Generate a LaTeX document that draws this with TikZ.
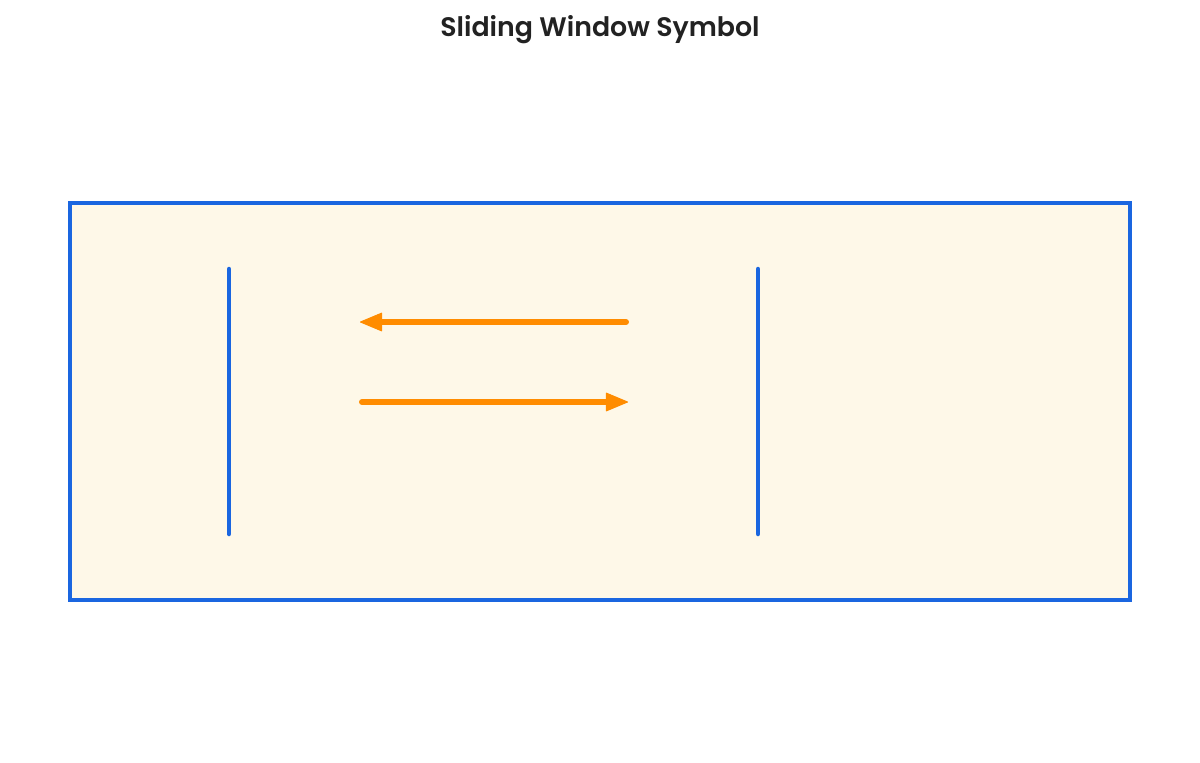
\documentclass[tikz,border=0pt]{standalone}
\usepackage{fontspec}
\setmainfont{Poppins}
\newfontfamily\titlefont{Poppins SemiBold}
\usetikzlibrary{arrows.meta}
\definecolor{frameblue}{HTML}{1A66E0}
\definecolor{panelfill}{HTML}{FEF8E8}
\definecolor{arroworange}{HTML}{FF8C00}
\definecolor{titlegray}{HTML}{222222}
\tikzset{
  panel/.style={draw=frameblue, fill=panelfill, line width=4pt},
  bar/.style={draw=frameblue, line width=4.5pt, line cap=round},
  slide/.style={draw=arroworange, line width=6pt, line cap=round,
    -{Triangle[length=23pt, width=19pt, line width=1pt, round]}},
  titletext/.style={font=\titlefont\fontsize{26.8}{31}\selectfont, text=titlegray}
}
\begin{document}
\begin{tikzpicture}[x=1pt, y=-1pt]
\useasboundingbox (0,0) rectangle (1200,763);
\fill[white] (0,0) rectangle (1200,763);
\node[titletext] (title) at (600,30) {Sliding Window Symbol};
\draw[panel] (70,203) rectangle (1130,600);
\coordinate (l1) at (229,269); \coordinate (l2) at (229,534);
\coordinate (r1) at (758,269); \coordinate (r2) at (758,534);
\draw[bar] (l1) -- (l2);
\draw[bar] (r1) -- (r2);
\coordinate (a1s) at (626,322); \coordinate (a1e) at (360,322);
\coordinate (a2s) at (362,402); \coordinate (a2e) at (628,402);
\draw[slide] (a1s) -- (a1e);
\draw[slide] (a2s) -- (a2e);
\end{tikzpicture}
\end{document}
